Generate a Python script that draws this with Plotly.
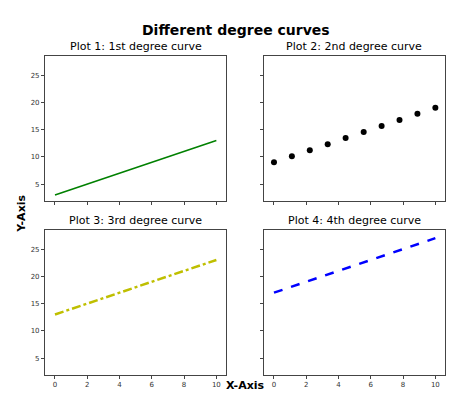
import plotly.graph_objects as go

x_line = [0, 10]
y1 = [3, 13]
x_pts = [0, 1.11, 2.22, 3.33, 4.44, 5.56, 6.67, 7.78, 8.89, 10]
y2 = [9, 10.11, 11.22, 12.33, 13.44, 14.56, 15.67, 16.78, 17.89, 19]
y3 = [13, 23]
y4 = [17, 27]
titles = ["Plot 1: 1st degree curve", "Plot 2: 2nd degree curve", "Plot 3: 3rd degree curve", "Plot 4: 4th degree curve"]

fig = go.Figure()
fig.add_trace(go.Scatter(x=x_line, y=y1, mode="lines", line=dict(color="green", width=1.6), xaxis="x", yaxis="y"))
fig.add_trace(go.Scatter(x=x_pts, y=y2, mode="markers", marker=dict(color="black", size=6), xaxis="x2", yaxis="y2"))
fig.add_trace(go.Scatter(x=x_line, y=y3, mode="lines", line=dict(color="#bfbf00", width=2.5, dash="dashdot"), xaxis="x3", yaxis="y3"))
fig.add_trace(go.Scatter(x=x_line, y=y4, mode="lines", line=dict(color="blue", width=2.5, dash="dash"), xaxis="x4", yaxis="y4"))

xd = [[0.078, 0.46], [0.540, 0.922]]
yd = [[0.5175, 0.88], [0.0825, 0.445]]
ax = dict(showgrid=False, zeroline=False, showline=True, mirror=True, linecolor="#444", linewidth=1,
          automargin=False, ticks="outside", ticklen=3, tickcolor="#444", tickfont=dict(size=7, color="#333"))
layout = {}
for i in range(4):
    r, c = divmod(i, 2)
    s = "" if i == 0 else str(i + 1)
    layout["xaxis" + s] = dict(ax, domain=xd[c], range=[-0.62, 10.6], tickvals=[0, 2, 4, 6, 8, 10],
                                showticklabels=(r == 1), anchor="y" + s)
    layout["yaxis" + s] = dict(ax, domain=yd[r], range=[1.9, 28.5], tickvals=[5, 10, 15, 20, 25],
                                showticklabels=(c == 0), anchor="x" + s)
fig.update_layout(**layout)

ann = []
for i in range(4):
    r, c = divmod(i, 2)
    ann.append(dict(text=titles[i], x=sum(xd[c]) / 2, y=yd[r][1], xref="paper", yref="paper",
                    xanchor="center", yanchor="bottom", showarrow=False, yshift=1,
                    font=dict(size=11, color="black")))
ann.append(dict(text="<b>Different degree curves</b>", x=0.48, y=0.97, xref="paper", yref="paper",
                xanchor="center", showarrow=False, font=dict(size=14, color="black")))
ann.append(dict(text="<b>X-Axis</b>", x=0.5, y=0.035, xref="paper", yref="paper",
                xanchor="center", showarrow=False, font=dict(size=11, color="black")))
ann.append(dict(text="<b>Y-Axis</b>", x=0.027, y=0.485, xref="paper", yref="paper", textangle=-90,
                xanchor="center", showarrow=False, font=dict(size=11, color="black")))

fig.update_layout(width=474, height=400, margin=dict(l=0, r=0, t=0, b=0), showlegend=False,
                  plot_bgcolor="white", paper_bgcolor="white", annotations=ann,
                  font=dict(family="DejaVu Sans"))
fig.write_html("out.html")
